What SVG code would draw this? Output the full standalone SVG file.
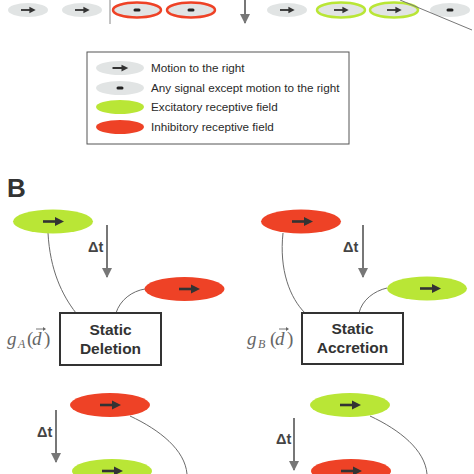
<svg xmlns="http://www.w3.org/2000/svg" width="474" height="474" viewBox="0 0 474 474">
<style>
.gray{fill:#e1e4e4}
.red{fill:#ee4226}
.green{fill:#b9e636}
.ringR{fill:#e1e4e4;stroke:#ee4226;stroke-width:2.5}
.ringG{fill:#e1e4e4;stroke:#b9e636;stroke-width:2.5}
.conn{fill:none;stroke:#6b6b6b;stroke-width:1}
.dt{stroke:#777;stroke-width:2;fill:none}
.lbl{font-family:"Liberation Sans",Arial,sans-serif;font-size:11.7px;fill:#2a2a2a}
.box{fill:#fff;stroke:#333;stroke-width:2}
.bt{font-family:"Liberation Sans",Arial,sans-serif;font-weight:bold;font-size:15.5px;fill:#333;text-anchor:middle}
.dtl{font-family:"Liberation Sans",Arial,sans-serif;font-weight:bold;font-size:14.5px;fill:#444}
.math{font-family:"Liberation Serif","DejaVu Serif",serif;font-style:italic;font-size:19px;fill:#666}
.sub{font-size:12px}
.up{font-style:normal}
</style>
<defs>
<g id="arr"><line x1="-10" y1="0" x2="3" y2="0" stroke="#333" stroke-width="2.6"/><polygon points="2,-4.5 11,0 2,4.5" fill="#333"/></g>
<g id="vec"><line x1="0" y1="0" x2="8" y2="0" stroke="#666" stroke-width="0.9"/><polygon points="7,-2 10,0 7,2" fill="#666"/></g>
<g id="dash"><rect x="-3.5" y="-1.6" width="7" height="3.2" rx="1.5" fill="#222"/></g>
<marker id="ah" viewBox="0 0 10 10" refX="9" refY="5" markerWidth="5" markerHeight="5" orient="auto"><polygon points="0,0 10,5 0,10" fill="#777"/></marker>
</defs>
<rect width="474" height="474" fill="#fff"/>

<!-- top row -->
<g id="toprow">
<ellipse class="gray" cx="28" cy="10" rx="20" ry="7"/><use href="#arr" transform="translate(28,10) scale(0.7)"/>
<ellipse class="gray" cx="82" cy="10" rx="20" ry="7"/><use href="#arr" transform="translate(82,10) scale(0.7)"/>
<line x1="110" y1="0" x2="110" y2="24" stroke="#888" stroke-width="1"/>
<ellipse class="ringR" cx="137" cy="10" rx="24" ry="7.5"/><use href="#dash" transform="translate(137,10)"/>
<ellipse class="ringR" cx="191" cy="10" rx="24" ry="7.5"/><use href="#dash" transform="translate(191,10)"/>
<line x1="245" y1="0" x2="245" y2="23" class="dt" stroke-width="1.5" marker-end="url(#ah)"/>
<ellipse class="gray" cx="287" cy="10" rx="20" ry="7"/><use href="#arr" transform="translate(287,10) scale(0.7)"/>
<ellipse class="ringG" cx="341" cy="10" rx="24" ry="7.5"/><use href="#arr" transform="translate(341,10) scale(0.7)"/>
<ellipse class="ringG" cx="394" cy="10" rx="24" ry="7.5"/><use href="#arr" transform="translate(394,10) scale(0.7)"/>
<ellipse class="gray" cx="450" cy="10" rx="20" ry="7"/><use href="#dash" transform="translate(450,10)"/>
<line x1="400" y1="0" x2="472" y2="30" stroke="#777" stroke-width="1"/>
</g>

<!-- legend -->
<g id="legend">
<rect x="87" y="52" width="262" height="92" fill="#fff" stroke="#555" stroke-width="1"/>
<ellipse class="gray" cx="120" cy="68" rx="24" ry="7"/><use href="#arr" transform="translate(120,68) scale(0.75)"/>
<text class="lbl" x="151" y="72">Motion to the right</text>
<ellipse class="gray" cx="120" cy="88" rx="24" ry="7"/><use href="#dash" transform="translate(120,88)"/>
<text class="lbl" x="151" y="92">Any signal except motion to the right</text>
<ellipse class="green" cx="120" cy="107" rx="24" ry="7"/>
<text class="lbl" x="151" y="111">Excitatory receptive field</text>
<ellipse class="red" cx="120" cy="127" rx="24" ry="7"/>
<text class="lbl" x="151" y="131">Inhibitory receptive field</text>
</g>

<text x="7" y="197" font-family="Liberation Sans,Arial,sans-serif" font-weight="bold" font-size="26" fill="#333">B</text>

<!-- connectors -->
<g id="connectors">
<path class="conn" d="M48,233 C50,270 62,295 76,313"/>
<path class="conn" d="M145,289 C132,291 120,300 116,313"/>
<path class="conn" d="M283,233 C279,270 290,298 305,313"/>
<path class="conn" d="M387,288 C374,291 362,300 359,313"/>
<path class="conn" d="M130,416 C160,430 185,450 187,474"/>
<path class="conn" d="M370,416 C400,430 425,450 427,474"/>
<line class="dt" x1="107" y1="225" x2="107" y2="277" marker-end="url(#ah)"/>
<line class="dt" x1="363" y1="225" x2="363" y2="277" marker-end="url(#ah)"/>
<line class="dt" x1="56" y1="410" x2="56" y2="462" marker-end="url(#ah)"/>
<line class="dt" x1="294" y1="418" x2="294" y2="470" marker-end="url(#ah)"/>
</g>
<text class="dtl" x="88" y="252">Δt</text>
<text class="dtl" x="343" y="252">Δt</text>
<text class="dtl" x="37" y="437">Δt</text>
<text class="dtl" x="276" y="444">Δt</text>

<g id="tl-green"><ellipse class="green" cx="53" cy="221.5" rx="40" ry="12"/><use href="#arr" transform="translate(53,221.5)"/></g>
<g id="tl-red"><ellipse class="red" cx="184.5" cy="289" rx="40" ry="12"/><use href="#arr" transform="translate(189,289)"/></g>
<g id="deletion">
<rect class="box" x="60" y="313" width="101" height="52"/>
<text class="bt" x="110.5" y="335">Static</text>
<text class="bt" x="110.5" y="354">Deletion</text>
</g>
<g id="gA">
<text class="math"><tspan x="7" y="345">g</tspan><tspan class="sub" x="18" y="348">A</tspan><tspan class="up" x="27" y="345">(</tspan><tspan x="32" y="345">d</tspan><tspan class="up" x="44" y="345">)</tspan></text>
<use href="#vec" transform="translate(36,329)"/>
</g>

<g id="tr-red"><ellipse class="red" cx="301" cy="221.5" rx="40" ry="12"/><use href="#arr" transform="translate(302,221.5)"/></g>
<g id="tr-green"><ellipse class="green" cx="427" cy="288.5" rx="40" ry="12"/><use href="#arr" transform="translate(430,288.5)"/></g>
<g id="accretion">
<rect class="box" x="302" y="313" width="101" height="51"/>
<text class="bt" x="352.5" y="334">Static</text>
<text class="bt" x="352.5" y="353">Accretion</text>
</g>
<g id="gB">
<text class="math"><tspan x="247" y="345">g</tspan><tspan class="sub" x="258" y="348">B</tspan><tspan class="up" x="270" y="345">(</tspan><tspan x="275" y="345">d</tspan><tspan class="up" x="287" y="345">)</tspan></text>
<use href="#vec" transform="translate(279,329)"/>
</g>

<g id="bl-red"><ellipse class="red" cx="110" cy="405" rx="40" ry="12"/><use href="#arr" transform="translate(110,405)"/></g>
<g id="bl-green"><ellipse class="green" cx="112" cy="471" rx="40" ry="12"/><use href="#arr" transform="translate(112,471)"/></g>
<g id="br-green"><ellipse class="green" cx="350" cy="405" rx="40" ry="12"/><use href="#arr" transform="translate(350,405)"/></g>
<g id="br-red"><ellipse class="red" cx="351" cy="471" rx="40" ry="12"/><use href="#arr" transform="translate(351,471)"/></g>
</svg>
